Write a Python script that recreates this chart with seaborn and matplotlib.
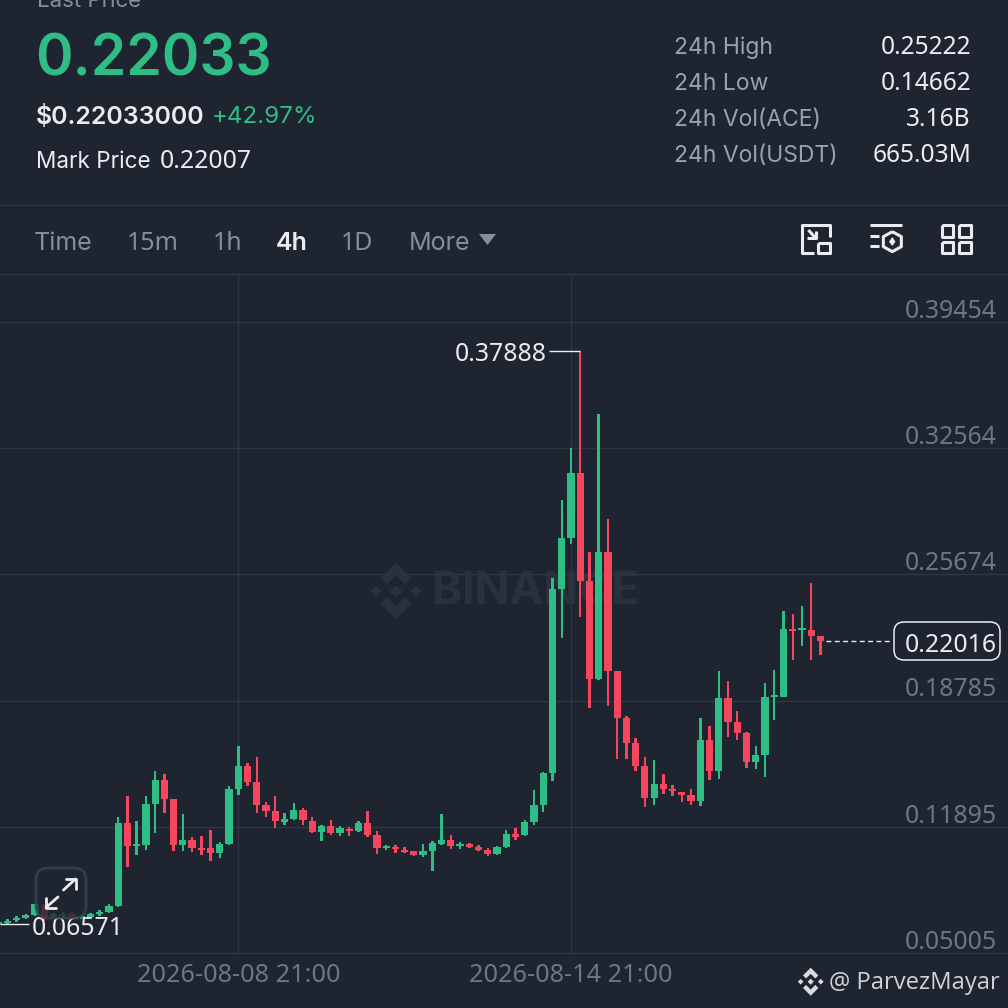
import matplotlib
matplotlib.use("Agg")
import matplotlib.pyplot as plt
import matplotlib.patches as mpatches
import numpy as np
import pandas as pd
import seaborn as sns

# Candle index 0 is 2026-08-08 21:00, one candle every 4 hours
candle_idx = list(range(-26, 64))

opens = [
    .0659, .0667, .0681, .0692, .0708, .0763, .0703, .0703, .0716, .0692,
    .0700, .0713, .0723, .0757, .1212, .1086, .1089, .1316, .1445, .1341,
    .1090, .1119, .1074, .1072, .1047, .1094, .1394, .1520, .1432, .1307,
    .1274, .1216, .1232, .1283, .1223, .1163, .1194, .1156, .1176, .1167,
    .1212, .1146, .1075, .1081, .1061, .1057, .1036, .1057, .1097, .1118,
    .1083, .1094, .1079, .1065, .1040, .1078, .1149, .1145, .1216, .1309,
    .1483, .2488, .2765, .3123, .2532, .1995, .2692, .2039, .1782, .1649,
    .1522, .1347, .1425, .1396, .1381, .1362, .1329, .1664, .1493, .1893,
    .1760, .1703, .1545, .1582, .1897, .1900, .2271, .2264, .2263, .2230,
]
closes = [
    .0670, .0678, .0694, .0708, .0768, .0692, .0711, .0711, .0703, .0703,
    .0713, .0727, .0757, .1212, .1086, .1097, .1314, .1445, .1341, .1090,
    .1118, .1075, .1061, .1047, .1094, .1394, .1520, .1436, .1307, .1277,
    .1220, .1231, .1283, .1225, .1161, .1194, .1156, .1183, .1168, .1212,
    .1146, .1072, .1083, .1070, .1052, .1036, .1057, .1100, .1118, .1083,
    .1097, .1078, .1065, .1040, .1079, .1149, .1134, .1216, .1309, .1483,
    .2486, .2767, .3123, .2533, .1995, .2692, .2039, .1784, .1649, .1522,
    .1347, .1425, .1396, .1383, .1363, .1329, .1664, .1493, .1893, .1760,
    .1703, .1545, .1582, .1897, .1908, .2271, .2260, .2273, .2231, .2202,
]
highs = [
    .0681, .0686, .0705, .0713, .0768, .0768, .0719, .0724, .0724, .0708,
    .0722, .0738, .0766, .1241, .1359, .1220, .1359, .1496, .1476, .1344,
    .1258, .1132, .1139, .1170, .1105, .1412, .1631, .1536, .1571, .1325,
    .1356, .1265, .1318, .1294, .1245, .1197, .1228, .1194, .1187, .1221,
    .1276, .1168, .1092, .1092, .1079, .1060, .1094, .1110, .1258, .1143,
    .1108, .1101, .1090, .1072, .1086, .1170, .1183, .1227, .1391, .1487,
    .2548, .2972, .3256, .37888, .2690, .3442, .2868, .2043, .1795, .1677,
    .1572, .1554, .1480, .1416, .1382, .1394, .1782, .1742, .2039, .1987,
    .1822, .1709, .1631, .1973, .2046, .2366, .2352, .2394, .2519, .2233,
]
lows = [
    .0653, .0659, .0670, .0689, .0705, .0675, .0697, .0697, .0692, .0686,
    .0694, .0705, .0722, .0754, .0968, .1037, .1061, .1154, .1267, .1057,
    .1057, .1050, .1036, .1004, .1018, .1093, .1363, .1412, .1267, .1241,
    .1183, .1201, .1229, .1199, .1156, .1112, .1146, .1141, .1141, .1163,
    .1134, .1040, .1061, .1045, .1045, .1030, .1025, .0948, .1092, .1068,
    .1066, .1072, .1057, .1030, .1037, .1074, .1118, .1141, .1199, .1272,
    .1440, .2219, .2734, .2337, .1837, .1992, .1849, .1558, .1561, .1496,
    .1299, .1307, .1369, .1356, .1327, .1310, .1305, .1447, .1452, .1678,
    .1664, .1509, .1507, .1463, .1774, .1897, .2100, .2178, .2100, .2128,
]

price_ticks = [0.05005, 0.11895, 0.18785, 0.25674, 0.32564, 0.39454]
price_labels = ["0.05005", "0.11895", "0.18785", "0.25674", "0.32564", "0.39454"]
time_ticks = [0, 36]
time_labels = ["2026-08-08 21:00", "2026-08-14 21:00"]

max_price = 0.37888
min_price = 0.06571
current_price = 0.22016

stat_names = ["24h High", "24h Low", "24h Vol(ACE)", "24h Vol(USDT)"]
stat_values = ["0.25222", "0.14662", "3.16B", "665.03M"]
tab_names = ["Time", "15m", "1h", "4h", "1D", "More"]

BG = "#1e2530"
GRID = "#2f3641"
GREEN = "#2ebd85"
RED = "#f6465d"
WHITE = "#eaecef"
GREY = "#848e9c"
LABEL_GREY = "#9aa2ad"
AXIS_GREY = "#6d7683"
MARK = "#2a313c"

# Digits in the app are all one width, Noto Sans has that too
NUM_FONT = ["Noto Sans", "DejaVu Sans"]

sns.set_theme(style="dark", rc={
    "figure.facecolor": BG,
    "axes.facecolor": "none",
    "axes.edgecolor": BG,
    "grid.color": GRID,
    "grid.linewidth": 1.0,
    "xtick.color": AXIS_GREY,
    "ytick.color": AXIS_GREY,
})
plt.rcParams["font.family"] = ["Inter", "DejaVu Sans"]

fig = plt.figure(figsize=(10.08, 10.08), dpi=100)


def pixel_axes(zorder):
    # Axes over the whole figure, measured in image pixels
    a = fig.add_axes([0, 0, 1, 1], zorder=zorder)
    a.set_xlim(0, 1008)
    a.set_ylim(1008, 0)
    a.axis("off")
    return a


def draw_logo(a, cx, cy, r, color, zorder=2):
    top = np.array([(0, -1), (0.55, -0.45), (0.33, -0.23), (0, -0.56), (-0.33, -0.23), (-0.55, -0.45)])
    for sign in (1, -1):
        pts = top * [1, sign] * r + [cx, cy]
        a.add_patch(mpatches.Polygon(pts, closed=True, fc=color, ec="none", zorder=zorder))
    for dx, half in ((-0.72, 0.2), (0.72, 0.2), (0, 0.22)):
        pts = np.array([(0, -half), (half, 0), (0, half), (-half, 0)])
        pts = (pts + [dx, 0]) * r + [cx, cy]
        a.add_patch(mpatches.Polygon(pts, closed=True, fc=color, ec="none", zorder=zorder))


# Watermark sits behind the candles
bg_ax = pixel_axes(0)
draw_logo(bg_ax, 396, 591, 28, MARK)
bg_ax.text(432, 592, "BINANCE", color=MARK, fontsize=32.7, fontweight="bold", va="center", ha="left")

# Price chart, y limits line the ticks up with the gridlines of the image
top_px, bottom_px = 275, 955
ax = fig.add_axes([0, 1 - bottom_px / 1008, 1, (bottom_px - top_px) / 1008], zorder=1)

df = pd.DataFrame({"idx": candle_idx, "open": opens, "close": closes, "high": highs, "low": lows})
df["body_low"] = df[["open", "close"]].min(axis=1)
df["body_h"] = (df["close"] - df["open"]).abs().clip(lower=0.0009)
df["wick_h"] = df["high"] - df["low"]

for color, part in ((GREEN, df[df["close"] >= df["open"]]), (RED, df[df["close"] < df["open"]])):
    sns.barplot(x=part["idx"].values, y=part["wick_h"].values, bottom=part["low"].values, ax=ax,
                native_scale=True, color=color, saturation=1, width=0.26, errorbar=None, linewidth=0, zorder=3)
    sns.barplot(x=part["idx"].values, y=part["body_h"].values, bottom=part["body_low"].values, ax=ax,
                native_scale=True, color=color, saturation=1, width=0.78, errorbar=None, linewidth=0, zorder=3)

ax.set_xlim(-25.79, 83.3)
ax.set_ylim(0.0490, 0.4202)
ax.set_xlabel("")
ax.set_ylabel("")
ax.set_xticks(time_ticks, time_labels, family=NUM_FONT)
ax.set_yticks(price_ticks, [])
ax.yaxis.tick_right()
ax.grid(True, axis="both")
ax.set_axisbelow(True)
ax.tick_params(axis="x", length=0, pad=6, labelsize=18.2, labelcolor=AXIS_GREY)
ax.tick_params(axis="y", length=0)
sns.despine(ax=ax, left=True, bottom=True, top=True, right=True)

# Price labels float just above their gridlines, inside the plot
for price, label in zip(price_ticks, price_labels):
    ax.annotate(label, xy=(1, price), xycoords=ax.get_yaxis_transform(), xytext=(-8, 3),
                textcoords="offset points", color=AXIS_GREY, fontsize=17.9, family=NUM_FONT,
                ha="right", va="baseline", zorder=5)

# Highest and lowest price markers
ax.hlines(max_price, 33.6, 37, color=WHITE, lw=1.0, zorder=4)
ax.text(33.4, max_price - 0.0022, "0.37888", color=WHITE, fontsize=17.9, family=NUM_FONT, ha="right", va="center", zorder=5)
ax.hlines(min_price, -25.79, -22.6, color=WHITE, lw=1.0, zorder=4)
ax.text(-22.4, min_price - 0.002, "0.06571", color=WHITE, fontsize=17.9, family=NUM_FONT, ha="left", va="center", zorder=5)

# Current price line
ax.hlines(current_price, 63.6, 70.8, color=WHITE, lw=1.0, linestyles=(0, (3.5, 2.5)), zorder=4)

ui = pixel_axes(3)

ui.add_patch(mpatches.FancyBboxPatch((900, 628), 94, 26, boxstyle="round,pad=6,rounding_size=10",
                                     fc=BG, ec=WHITE, lw=1.1))
ui.text(951, 645, f"{current_price:.5f}", color=WHITE, fontsize=17.9, family=NUM_FONT, ha="center", va="center")

# Expand button over the chart
ui.add_patch(mpatches.FancyBboxPatch((44, 876), 34, 34, boxstyle="round,pad=8,rounding_size=12",
                                     fc=BG, ec="#3b424e", lw=2, alpha=0.8))
for pts in ([(63.5, 890), (75.5, 879)], [(66, 879), (75.5, 879), (75.5, 889)],
            [(58, 897), (46, 907.5)], [(46, 897.5), (46, 907.5), (56, 907.5)]):
    xs, ys = zip(*pts)
    ui.plot(xs, ys, color=WHITE, lw=2)

# Header block
ui.text(37, 1, "Last Price", color=GREY, fontsize=16, va="center", ha="left")
ui.text(35, 60, "0.22033", color=GREEN, fontsize=41, fontweight="semibold", va="center", ha="left")
ui.text(36, 117, "$0.22033000", color=WHITE, fontsize=17.9, fontweight="semibold", va="center", ha="left")
ui.text(212, 117, "+42.97%", color=GREEN, fontsize=17.4, va="center", ha="left")
ui.text(36, 162, "Mark Price", color=WHITE, fontsize=16.2, va="center", ha="left")
ui.text(160, 161, "0.22007", color=WHITE, fontsize=17.9, family=NUM_FONT, va="center", ha="left")

for i, (name, value) in enumerate(zip(stat_names, stat_values)):
    y = 48 + i * 36
    ui.text(674, y, name, color=LABEL_GREY, fontsize=16.5, va="center", ha="left")
    ui.text(971, y - 1, value, color=WHITE, fontsize=17.7, family=NUM_FONT, fontweight="semibold", va="center", ha="right")

# Separators and tab row
ui.plot([0, 1008], [205, 205], color=GRID, lw=1)
ui.plot([0, 1008], [274, 274], color=GRID, lw=1)
for name, x in zip(tab_names, [34, 127, 213, 276, 341, 409]):
    active = name == "4h"
    # Noto for the tabs that start with a 1, its 1 is as wide as the app's
    font = NUM_FONT if name.startswith("1") else ["Inter", "DejaVu Sans"]
    ui.text(x, 243, name, color=WHITE if active else GREY, fontsize=18, family=font,
            fontweight="semibold" if active else "normal", va="center", ha="left")
ui.add_patch(mpatches.Polygon([(479, 234), (496, 234), (487.5, 245)], closed=True, fc=GREY, ec="none"))

# Toolbar icons, drawn on a 3x grid starting at (780, 210)
def icon_pts(pts):
    return [780 + p[0] / 3 for p in pts], [210 + p[1] / 3 for p in pts]


icon_lines = [
    [(102, 128), (65, 128), (65, 45), (150, 45), (150, 82)],
    [(115, 100), (150, 100), (150, 128), (115, 128), (115, 100)],
    [(85, 60), (108, 85)],
    [(82, 85), (108, 85), (108, 64)],
    [(270, 45), (365, 45)],
    [(270, 78), (298, 78)],
    [(270, 108), (298, 108)],
    [(337, 65), (364, 80), (364, 110), (337, 125), (310, 110), (310, 80), (337, 65)],
    [(485, 45), (520, 45), (520, 80), (485, 80), (485, 45)],
    [(537, 45), (572, 45), (572, 80), (537, 80), (537, 45)],
    [(485, 95), (520, 95), (520, 130), (485, 130), (485, 95)],
    [(537, 95), (572, 95), (572, 130), (537, 130), (537, 95)],
]
for pts in icon_lines:
    xs, ys = icon_pts(pts)
    ui.plot(xs, ys, color=WHITE, lw=2.2, solid_capstyle="butt")
ui.add_patch(mpatches.Polygon([(892.3, 237), (895.5, 241.7), (892.3, 246), (889, 241.7)], closed=True, fc=WHITE, ec="none"))

# Footer credit
draw_logo(ui, 810.7, 981.7, 14, "#d8dadd")
ui.text(829, 983, "@ ParvezMayar", color="#d0d3d8", fontsize=17.1, family=["Open Sans", "DejaVu Sans"], va="center", ha="left")

fig.savefig("out.png", dpi=100, facecolor=BG)
plt.close(fig)
